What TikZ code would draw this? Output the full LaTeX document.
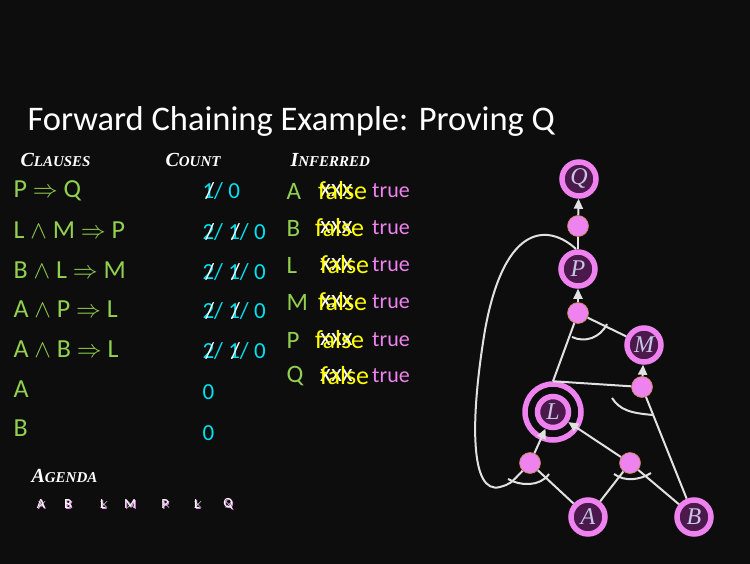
\documentclass[tikz,border=0pt]{standalone}
\usepackage{fontspec}
\setmainfont{Carlito}
\newfontfamily\hser{Liberation Serif}
\usetikzlibrary{arrows.meta}
\definecolor{bg}{RGB}{13,13,13}
\definecolor{grn}{RGB}{146,208,80}
\definecolor{cyn}{RGB}{0,225,240}
\definecolor{yel}{RGB}{255,255,0}
\definecolor{pnk}{RGB}{238,130,238}
\definecolor{dpur}{RGB}{75,25,75}
\definecolor{lav}{RGB}{200,200,230}
\definecolor{edge}{RGB}{225,225,225}
\definecolor{brn}{RGB}{190,140,60}
\tikzset{
 big/.style={circle,draw=pnk,line width=5.5pt,fill=dpur,minimum size=34pt,inner sep=0pt,text=lav,font=\hser\itshape\fontsize{24}{24}\selectfont},
 dot/.style={circle,fill=pnk,draw=brn,line width=0.6pt,minimum size=21pt,inner sep=0pt},
 ln/.style={draw=edge,line width=2pt},
 ar/.style={ln,-{Triangle[length=10pt,width=9pt]}},
 cl/.style={anchor=west,text=grn,font=\fontsize{26}{26}\selectfont},
 hd/.style={anchor=west,text=white,font=\hser\bfseries\itshape},
 cnt/.style={anchor=west,text=cyn,font=\fontsize{23}{23}\selectfont},
}
\newcommand{\hdr}[2]{{\fontsize{20}{20}\selectfont #1}{\fontsize{15}{15}\selectfont #2}}
\begin{document}
\begin{tikzpicture}[x=1pt,y=-1pt]
\fill[bg] (0,0) rectangle (750,564);
\useasboundingbox (0,0) rectangle (750,564);
\node[anchor=west,text=white,font=\fontsize{34.5}{34}\selectfont] (title) at (24,121) {Forward Chaining Example: Proving Q};
\node[hd] (h1) at (17,160) {\hdr{C}{LAUSES}};
\node[hd] (h2) at (162,160) {\hdr{C}{OUNT}};
\node[hd] (h3) at (287,160) {\hdr{I}{NFERRED}};
\node[hd] (h4) at (28,476) {\hdr{A}{GENDA}};
% clauses
\node[cl] (c1) at (10,191) {P $\Rightarrow$ Q};
\node[cl] (c2) at (10,230) {L $\wedge$ M $\Rightarrow$ P};
\node[cl] (c3) at (10,270) {B $\wedge$ L $\Rightarrow$ M};
\node[cl] (c4) at (10,309) {A $\wedge$ P $\Rightarrow$ L};
\node[cl] (c5) at (10,349) {A $\wedge$ B $\Rightarrow$ L};
\node[cl] (c6) at (10,389) {A};
\node[cl] (c7) at (10,428) {B};
% counts
\node[cnt] (n1) at (199,191) {1{\color{white}\llap{/}}/ 0};
\foreach \y/\nm in {232/n2,272/n3,311/n4,351/n5}
  \node[cnt] (\nm) at (199,\y) {2{\color{white}\llap{/}}/ 1{\color{white}\llap{/}}/ 0};
\node[cnt] (n6) at (199,392) {0};
\node[cnt] (n7) at (199,433) {0};
% inferred
\foreach \l/\y/\dx in {A/191/0,B/228/-3,L/265/2,M/302/0,P/340/-3,Q/376/2}{
  \node[cl,font=\fontsize{25}{25}\selectfont] (i\l) at (283,\y) {\l};
  \node[anchor=west,text=white,font=\fontsize{25}{25}\selectfont,inner sep=0pt] (w\l) at (320,\y) {xxx};
  \node[anchor=west,text=yel,font=\fontsize{26}{26}\selectfont,inner sep=0pt] (f\l) at (318+\dx,\y) {false};
  \node[anchor=west,text=pnk,font=\fontsize{22}{22}\selectfont,inner sep=0pt] (t\l) at (372,\y) {true};
}
% agenda
\foreach \l/\x in {A/33,B/60,L/95,M/122,P/157,L/189,Q/220}{
  \node[text=pnk,font=\fontsize{14}{14}\selectfont,inner sep=0pt] at (\x+9,505) {\l};
  \node[text=white,font=\fontsize{14}{14}\selectfont,inner sep=0pt] at (\x+8,504) {\l};
  \node[text=white,font=\fontsize{14}{14}\selectfont,inner sep=0pt] at (\x+9,505) {$\times$};
}
% graph
\node[big] (Q) at (579,179) {Q};
\node[dot] (dq) at (578,226) {};
\node[big] (P) at (578,269) {P};
\node[dot] (dp) at (578,313) {};
\node[big] (M) at (644,345) {M};
\node[dot] (dm) at (642,387) {};
\node[circle,draw=pnk,line width=5.5pt,minimum size=56pt] (Lo) at (553,412) {};
\node[big,minimum size=31pt] (L) at (553,412) {L};
\node[dot] (dl) at (530,463) {};
\node[dot] (dr) at (630,463) {};
\node[big] (A) at (588,517) {A};
\node[big] (B) at (694,517) {B};
\draw[ar] (dq) -- (Q);
\draw[ln] (P) -- (dq);
\draw[ar] (dp) -- (P);
\draw[ln] (Lo.north) -- (dp);
\draw[ln] (M) -- (dp);
\draw[ar] (dm) -- (M);
\draw[ln] (Lo.north) -- (dm);
\draw[ln] (B) -- (dm);
\draw[ar] (dl) -- (L);
\draw[ar] (dr) -- (L);
\draw[ln] (A) -- (dl);
\draw[ln] (A) -- (dr);
\draw[ln] (B) -- (dr);
\coordinate (lp) at (576,249);
\draw[ln] (lp) .. controls (550,225) and (505,220) .. (485,330)
  .. controls (470,420) and (470,495) .. (500,487) .. controls (510,484) .. (dl);
% and arcs
\draw[ln] (572,337) .. controls (585,343) and (600,338) .. (607,324);
\draw[ln] (612,398) .. controls (620,410) and (630,413) .. (653,415);
\draw[ln] (508,479) .. controls (520,486) and (540,487) .. (549,474);
\draw[ln] (614,474) .. controls (625,482) and (640,480) .. (651,473);
\end{tikzpicture}
\end{document}
